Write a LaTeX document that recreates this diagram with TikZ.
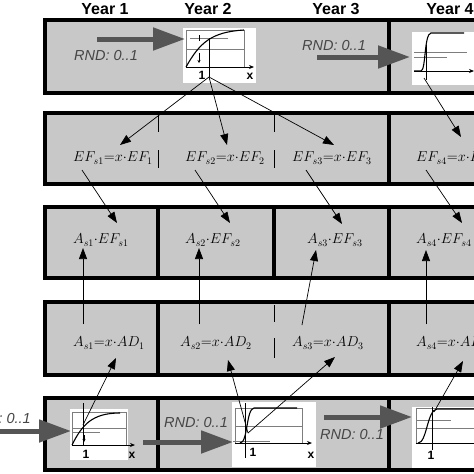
\documentclass[tikz,border=0pt]{standalone}
\usepackage{fontspec}
\setmainfont{Liberation Serif}
\setsansfont{Liberation Sans}
\usetikzlibrary{arrows.meta}
\definecolor{boxgray}{RGB}{200,200,200}
\definecolor{arrgray}{RGB}{85,85,85}
\definecolor{framegray}{RGB}{125,125,125}
\definecolor{rndtext}{RGB}{70,70,70}
\tikzset{
 rowbox/.style={draw=black, line width=4pt, fill=boxgray},
 divider/.style={draw=black, line width=4pt},
 thindiv/.style={draw=black, line width=0.9pt},
 bigarrow/.style={draw=arrgray, line width=5pt, -{Triangle[length=32pt,width=22pt]}, color=arrgray},
 link/.style={draw=black, line width=0.7pt, -{Triangle[length=11pt,width=8pt]}},
 formula/.style={anchor=west, font=\fontsize{14.5}{16}\selectfont, inner sep=0pt},
 yearlbl/.style={font=\sffamily\bfseries\fontsize{16}{18}\selectfont, inner sep=0pt},
 rndlbl/.style={font=\sffamily\itshape\fontsize{14.5}{17}\selectfont, text=rndtext, inner sep=0pt},
 axlbl/.style={font=\sffamily\bfseries\fontsize{12}{14}\selectfont, inner sep=0pt},
 chartbg/.style={fill=white, draw=none},
 framel/.style={draw=framegray, line width=0.8pt},
 curvel/.style={draw=black, line width=1.1pt},
 axisl/.style={draw=black, line width=1pt, -{Stealth[length=5pt,width=4pt]}},
 thinl/.style={draw=black, line width=0.6pt},
}
\begin{document}
\begin{tikzpicture}[x=1pt,y=-1pt]
\useasboundingbox (0,0) rectangle (474,474);
\clip (0,0) rectangle (474,474);
\fill[white] (0,0) rectangle (474,474);

% headers
\node[yearlbl] (y1) at (105,9) {Year 1};
\node[yearlbl] (y2) at (208,9) {Year 2};
\node[yearlbl] (y3) at (336,9) {Year 3};
\node[yearlbl] (y4) at (450,9) {Year 4};

% row boxes
\path[rowbox] (45,20) rectangle (492,93);
\path[divider] (389,20) -- (389,93);
\path[rowbox] (45,113) rectangle (492,184);
\path[divider] (389,113) -- (389,184);
\path[thindiv] (158,113) -- (158,132) (158,150) -- (158,168);
\path[thindiv] (274,113) -- (274,132) (274,150) -- (274,168);
\path[rowbox] (45,207) rectangle (492,278);
\path[divider] (158,207) -- (158,278) (274,207) -- (274,278) (389,207) -- (389,278);
\path[rowbox] (45,302) rectangle (492,375);
\path[divider] (158,302) -- (158,375) (389,302) -- (389,375);
\path[thindiv] (274,305) -- (274,322) (274,338) -- (274,358);
\path[rowbox] (45,398) rectangle (492,470);
\path[divider] (158,398) -- (158,470) (389,398) -- (389,470);

% ---- chart top Year 2
\path[chartbg] (183,28) rectangle (256,83);
\path[framel] (186,30) rectangle (244,67);
\path[framel] (186,49) -- (244,49);
\path[framel] (190,38) -- (228,38);
\path[thinl] (199,35) -- (199,41);
\path[thinl,-{Stealth[length=3pt,width=3pt]}] (199,53) -- (199,63);
\path[axisl] (186,67) -- (254,67);
\path[curvel] (186,67) .. controls (200,42) and (212,32) .. (244,30);
\path[thinl] (209,38) -- (209,77);
\node[axlbl] (t2one) at (202,75) {1};
\node[axlbl] (t2x) at (250,76) {x};
\coordinate (c2) at (209,77);

% ---- chart top Year 4
\path[chartbg] (412,32) rectangle (480,85);
\path[framel] (414,52) -- (467,52);
\path[framel] (414,57) -- (447,57);
\path[axisl] (414,71) -- (474,71);
\path[curvel] (414,71) -- (421,71) .. controls (426,70) and (424,34) .. (431,33) -- (464,33);
\path[thinl] (426,45) -- (426,80);
\coordinate (c4) at (424,78);

% ---- chart bottom Year 1
\path[chartbg] (70,409) rectangle (128,460);
\path[framel] (72,412) rectangle (126,445);
\path[framel] (72,428) -- (126,428);
\path[framel] (72,432) -- (100,432);
\path[thinl,-{Stealth[length=3pt,width=3pt]}] (84,435) -- (84,442);
\path[axisl] (72,445) -- (135,445);
\path[curvel] (72,445) .. controls (82,425) and (92,413) .. (120,413);
\path[thinl] (83,403) -- (83,445);
\node[axlbl] (b1one) at (86,454) {1};
\node[axlbl] (b1x) at (132,455) {x};
\coordinate (b1) at (83,425);

% ---- chart bottom Year 2
\path[chartbg] (232,402) rectangle (316,467);
\path[framel] (235,408) rectangle (302,443);
\path[framel] (235,426) -- (302,426);
\path[framel] (233,441) -- (270,441);
\path[axisl] (235,443) -- (312,443);
\path[curvel] (240,443) .. controls (248,443) and (246,409) .. (254,408) -- (297,408);
\path[thinl] (245,403) -- (245,458);
\node[axlbl] (b2one) at (253,452) {1};
\node[axlbl] (b2x) at (311,455) {x};
\coordinate (b2) at (248,433);

% ---- chart bottom Year 4
\path[chartbg] (412,407) rectangle (480,468);
\path[framel] (416,408) -- (480,408);
\path[framel] (416,428) -- (480,428);
\path[framel] (416,408) -- (416,443);
\path[framel] (416,420) -- (451,420);
\path[axisl] (416,443) -- (480,443);
\path[curvel] (418,443) .. controls (427,443) and (427,410) .. (437,409) -- (474,409);
\path[thinl] (432,407) -- (432,450);
\node[axlbl] (b4one) at (431,455) {1};
\coordinate (b4) at (434,412);

% ---- gray arrows and RND labels
\coordinate (a1s) at (97,39);   \coordinate (a1e) at (185,39);
\coordinate (a2s) at (317,57);  \coordinate (a2e) at (410,57);
\coordinate (a3s) at (-10,431); \coordinate (a3e) at (71,431);
\coordinate (a4s) at (143,442); \coordinate (a4e) at (233,442);
\coordinate (a5s) at (324,417); \coordinate (a5e) at (412,417);
\path[bigarrow] (a1s) -- (a1e);
\path[bigarrow] (a2s) -- (a2e);
\path[bigarrow] (a3s) -- (a3e);
\path[bigarrow] (a4s) -- (a4e);
\path[bigarrow] (a5s) -- (a5e);
\node[rndlbl] (r1) at (106,56) {RND: 0..1};
\node[rndlbl] (r2) at (334,46) {RND: 0..1};
\node[rndlbl,anchor=east] (r3) at (31,419) {RND: 0..1};
\node[rndlbl] (r4) at (196,423) {RND: 0..1};
\node[rndlbl] (r5) at (352,435) {RND: 0..1};

% ---- formulas
\node[formula] (ef1) at (73,158) {$EF_{s1}{=}x{\cdot}EF_{1}$};
\node[formula] (ef2) at (185,158) {$EF_{s2}{=}x{\cdot}EF_{2}$};
\node[formula] (ef3) at (292,158) {$EF_{s3}{=}x{\cdot}EF_{3}$};
\node[formula] (ef4) at (416,158) {$EF_{s4}{=}x{\cdot}EF_{4}$};
\node[formula] (ae1) at (73,240) {$A_{s1}{\cdot}EF_{s1}$};
\node[formula] (ae2) at (185,240) {$A_{s2}{\cdot}EF_{s2}$};
\node[formula] (ae3) at (307,240) {$A_{s3}{\cdot}EF_{s3}$};
\node[formula] (ae4) at (416,240) {$A_{s4}{\cdot}EF_{s4}$};
\node[formula] (ad1) at (73,343) {$A_{s1}{=}x{\cdot}AD_{1}$};
\node[formula] (ad2) at (180,343) {$A_{s2}{=}x{\cdot}AD_{2}$};
\node[formula] (ad3) at (292,343) {$A_{s3}{=}x{\cdot}AD_{3}$};
\node[formula] (ad4) at (416,343) {$A_{s4}{=}x{\cdot}AD_{4}$};

% ---- connector end points
\coordinate (t21) at (120,145); \coordinate (t22) at (227,145);
\coordinate (t23) at (334,145); \coordinate (t24) at (461,137);
\coordinate (f1) at (82,170);  \coordinate (f2) at (195,170);
\coordinate (f3) at (306,170); \coordinate (f4) at (426,170);
\coordinate (g1) at (117,223); \coordinate (g2) at (230,223);
\coordinate (g3) at (342,224); \coordinate (g4) at (462,223);
\coordinate (h1) at (83,324);  \coordinate (h2) at (199,324);
\coordinate (h3) at (302,325); \coordinate (h4) at (426,324);
\coordinate (k1) at (83,248);  \coordinate (k2) at (199,248);
\coordinate (k3) at (316,250); \coordinate (k4) at (426,250);
\coordinate (m1) at (116,358); \coordinate (m2) at (228,360);
\coordinate (m3) at (335,357); \coordinate (m4) at (463,361);

% ---- connectors
\path[link] (c2) -- (t21);
\path[link] (c2) -- (t22);
\path[link] (c2) -- (t23);
\path[link] (c4) -- (t24);
\path[link] (f1) -- (g1);
\path[link] (f2) -- (g2);
\path[link] (f3) -- (g3);
\path[link] (f4) -- (g4);
\path[link] (h1) -- (k1);
\path[link] (h2) -- (k2);
\path[link] (h3) -- (k3);
\path[link] (h4) -- (k4);
\path[link] (b1) -- (m1);
\path[link] (b2) -- (m2);
\path[link] (b2) -- (m3);
\path[link] (b4) -- (m4);
\end{tikzpicture}
\end{document}
